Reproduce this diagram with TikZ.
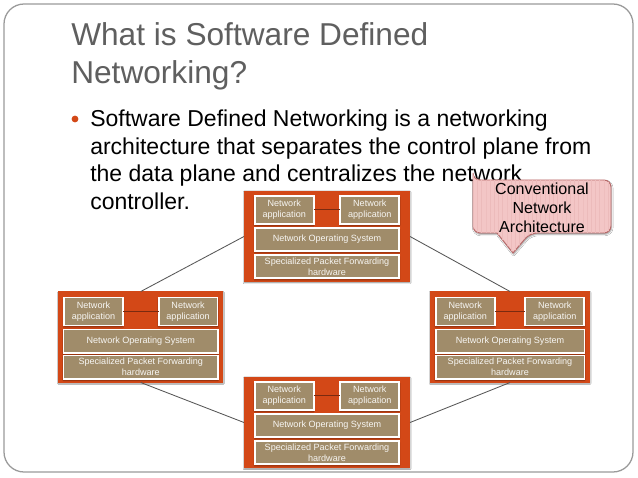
\documentclass[tikz,border=0pt]{standalone}
\usepackage{fontspec}
\setmainfont{Liberation Sans}
\usepackage{xcolor}
\usetikzlibrary{positioning,shadows.blur,patterns}
\definecolor{orange1}{HTML}{D34817}
\definecolor{tan1}{HTML}{A08C6A}
\definecolor{gray1}{HTML}{5F5F5F}
\definecolor{frame1}{HTML}{9A9A9A}
\definecolor{pink1}{HTML}{F3C6C6}
\definecolor{red1}{HTML}{B86A6A}
\definecolor{dark1}{HTML}{7A2A10}

\begin{document}
\begin{tikzpicture}[
    x=0.025cm, y=-0.025cm,
    panel/.style={draw=none, fill=orange1, minimum width=4.15cm,
                  minimum height=2.275cm, outer sep=0pt,
                  blur shadow={shadow blur steps=3, shadow xshift=0pt,
                  shadow yshift=-0.7pt, shadow blur radius=0.7pt}},
    comp/.style={draw=white, fill=tan1, line width=1.3pt, text=white!92!tan1,
                 font=\fontsize{6.45}{7.9}\selectfont, align=center,
                 inner sep=0pt, outer sep=0pt,
                 blur shadow={shadow blur steps=3, shadow xshift=0pt,
                 shadow yshift=-1pt, shadow blur radius=0.8pt}},
    app/.style={comp, minimum width=1.47cm, minimum height=0.7cm},
    layer/.style={comp, minimum width=3.6cm, minimum height=0.58cm},
    plink/.style={draw=gray1!90!black, line width=0.6pt},
    alink/.style={draw=dark1, line width=0.7pt},
]
\useasboundingbox (0,0) rectangle (638,478);

% ── slide ──
\fill[white] (0,0) rectangle (638,478);
\coordinate (frameA) at (4,4);
\coordinate (frameB) at (633,472);
\draw[frame1, line width=0.9pt, rounded corners=0.5cm] (frameA) rectangle (frameB);

\node[font=\fontsize{22.5}{27}\selectfont, text=gray1, align=left,
      anchor=north west, inner sep=0pt] (title) at (71,22.5)
    {What is Software Defined\\Networking?};

\node[circle, fill=orange1, inner sep=0pt, minimum size=0.17cm] (bullet) at (75,119) {};
\node[font=\fontsize{16.35}{19.7}\selectfont, align=left, anchor=north west,
      inner sep=0pt] (body) at (90,109.5)
    {Software Defined Networking is a networking\\
     architecture that separates the control plane from\\
     the data plane and centralizes the network\\
     controller.};

% ── top ──
\node[panel] (top) at (327,236.5) {};
\node[app, below right=0.12cm and 0.27cm of top.north west] (topA) {Network\\application};
\node[app, below left=0.12cm and 0.27cm of top.north east] (topB) {Network\\application};
\node[layer, below=0.92cm of top.north] (topC) {Network Operating System};
\node[layer, below=1.6cm of top.north] (topD) {Specialized Packet Forwarding\\hardware};
\draw[alink] (topA.east) -- (topB.west);

% ── left ──
\node[panel, minimum width=4.125cm] (left) at (140.8,337) {};
\node[app, below right=0.15cm and 0.145cm of left.north west] (leftA) {Network\\application};
\node[app, below left=0.15cm and 0.145cm of left.north east] (leftB) {Network\\application};
\node[layer, minimum width=3.86cm, below=0.95cm of left.north] (leftC) {Network Operating System};
\node[layer, minimum width=3.86cm, below=1.6cm of left.north] (leftD) {Specialized Packet Forwarding\\hardware};
\draw[alink] (leftA.east) -- (leftB.west);

% ── right ──
\node[panel, minimum width=4cm] (right) at (510,337) {};
\node[app, below right=0.15cm and 0.145cm of right.north west] (rightA) {Network\\application};
\node[app, below left=0.15cm and 0.145cm of right.north east] (rightB) {Network\\application};
\node[layer, minimum width=3.72cm, below=0.95cm of right.north] (rightC) {Network Operating System};
\node[layer, minimum width=3.72cm, below=1.6cm of right.north] (rightD) {Specialized Packet Forwarding\\hardware};
\draw[alink] (rightA.east) -- (rightB.west);

% ── bottom ──
\node[panel] (bot) at (327,422.5) {};
\node[app, below right=0.12cm and 0.27cm of bot.north west] (botA) {Network\\application};
\node[app, below left=0.12cm and 0.27cm of bot.north east] (botB) {Network\\application};
\node[layer, below=0.92cm of bot.north] (botC) {Network Operating System};
\node[layer, below=1.6cm of bot.north] (botD) {Specialized Packet Forwarding\\hardware};
\draw[alink] (botA.east) -- (botB.west);

% ── ring ──
\draw[plink] (top.west) -- (left.north);
\draw[plink] (top.east) -- (right.north);
\draw[plink] (left.south) -- (bot.west);
\draw[plink] (right.south) -- (bot.east);

% ── callout ──
\coordinate (noteNW) at (473,180);
\coordinate (noteSE) at (611,233);
\coordinate (tipL) at (497,233);
\coordinate (tipR) at (530,233);
\coordinate (tip) at (513,253);
\path[draw=red1, fill=pink1, line width=0.7pt,
      postaction={pattern=vertical lines, pattern color=pink1!88!red1},
      blur shadow={shadow blur steps=3, shadow xshift=0.5pt, shadow yshift=-1pt,
      shadow blur radius=1pt}]
    [rounded corners=5pt] (noteNW) -| (noteSE) -- (tipR)
    [sharp corners] -- (tip) -- (tipL)
    [rounded corners=5pt] -| (noteNW) -- cycle;
\node[inner sep=0pt, align=center, font=\fontsize{11.4}{13.7}\selectfont]
    (note) at (542,208) {Conventional\\Network\\Architecture};

\end{tikzpicture}
\end{document}
